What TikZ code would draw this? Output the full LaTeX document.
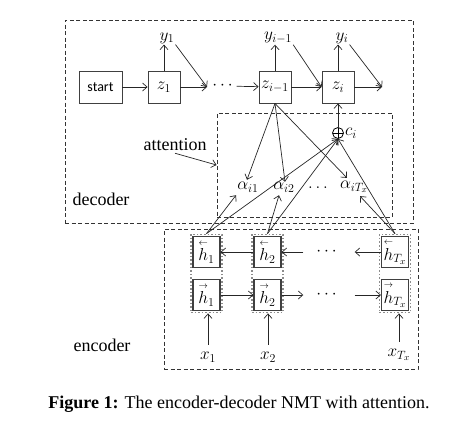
\documentclass[tikz,border=0pt]{standalone}
\usepackage{amsmath}
\usepackage{fontspec}
\setmainfont{Liberation Serif}
\newfontfamily\calibfont{Carlito}
\usetikzlibrary{arrows.meta,fit,calc}
\newcommand\hbk{\overset{\scriptscriptstyle\leftarrow}{h}}
\newcommand\hfw{\overset{\scriptscriptstyle\rightarrow}{h}}
\begin{document}
\begin{tikzpicture}[x=1pt,y=-1pt,
  >={Straight Barb[length=4.5pt,width=8pt]},
  conn/.style={draw=black!85, line width=0.7pt},
  arr/.style={conn,->},
  region/.style={draw=black!80, line width=0.9pt, dash pattern=on 4pt off 2.5pt, inner sep=0pt},
  dbox/.style={draw=black!75, line width=0.9pt, minimum width=32pt, minimum height=32pt, inner sep=0pt, font=\fontsize{18}{20}\selectfont},
  ebox/.style={draw=black!75, line width=1.2pt, minimum width=27pt, minimum height=31pt, inner sep=0pt, font=\fontsize{18}{20}\selectfont},
  gbox/.style={draw=black!45, line width=1.6pt, dotted, inner sep=1.5pt},
  mlab/.style={inner sep=1pt, font=\fontsize{18}{20}\selectfont},
  tlab/.style={inner sep=0pt, font=\fontsize{18}{20}\selectfont}
]
\useasboundingbox (0,0) rectangle (474,432);

% regions
\node[region, minimum width=348pt, minimum height=203pt] (dec) at (239,121.5) {};
\node[region, minimum width=175pt, minimum height=104pt] (att) at (304.5,165) {};
\node[region, minimum width=254pt, minimum height=140pt] (enc) at (291,299) {};

% decoder
\node[dbox, minimum width=43pt, font=\calibfont\fontsize{14}{16}\selectfont] (start) at (100.5,87) {start};
\node[dbox] (z1) at (164,87) {$z_1$};
\node[dbox] (zim1) at (275,87) {$z_{i-1}$};
\node[dbox] (zi) at (338,87) {$z_i$};
\node[mlab] (y1) at (167,38) {$y_1$};
\node[mlab] (yim1) at (278,38) {$y_{i-1}$};
\node[mlab] (yi) at (342,38) {$y_i$};
\node[mlab] (ddots) at (224,86) {$\cdots$};
\coordinate (m1) at (207,87);
\coordinate (m2) at (382,87);

\draw[arr] (start) -- (z1);
\draw[arr] (z1) -- (m1);
\draw[arr] (y1.south east) -- (m1);
\draw[arr] (z1.north) -- (z1.north|-y1.south);
\draw[arr] (ddots) -- (zim1);
\draw[arr] (zim1.north) -- (zim1.north|-yim1.south);
\draw[arr] (zim1) -- (zi);
\draw[arr] (yim1.south east) -- (zi.west);
\draw[arr] (zi.north) -- (zi.north|-yi.south);
\draw[arr] (zi) -- (m2);
\draw[arr] (yi.south east) -- (m2);

% attention
\node[circle, draw=black, line width=0.8pt, minimum size=11pt, inner sep=0pt,
  path picture={\draw[line width=0.8pt] (path picture bounding box.north) -- (path picture bounding box.south)
   (path picture bounding box.west) -- (path picture bounding box.east);}] (op) at (338,133) {};
\node[mlab, anchor=west] (ci) at (op.east) {$c_i$};
\node[mlab] (a1) at (248,187) {$\alpha_{i1}$};
\node[mlab] (a2) at (284,187) {$\alpha_{i2}$};
\node[mlab] (adots) at (318,188) {$\ldots$};
\node[mlab] (aT) at (354,187) {$\alpha_{iT_x}$};

\draw[arr] (op) -- (zi);
\draw[arr] (zim1.south) -- ($(a1.north)+(-1,-1)$);
\draw[arr] (zim1.south) -- ($(a2.north)+(1,1)$);
\draw[arr] (zim1.south) -- ($(aT.north)+(-7,-2)$);

\node[tlab] (attn) at (175,145) {attention};
\draw[arr] ($(attn.south)+(0,2)$) -- (att.west);
\node[tlab] (declab) at (101,199) {decoder};
\node[tlab] (enclab) at (102,345) {encoder};

% encoder
\node[ebox] (b1) at (206.5,252) {$\hbk_1$};
\node[ebox] (f1) at (206.5,295) {$\hfw_1$};
\node[ebox] (b2) at (267.5,252) {$\hbk_2$};
\node[ebox] (f2) at (267.5,295) {$\hfw_2$};
\node[ebox] (bT) at (395,252) {$\hbk_{T_x}$};
\node[ebox] (fT) at (395,295) {$\hfw_{T_x}$};
\node[gbox, fit=(b1)(f1)] (g1) {};
\node[gbox, fit=(b2)(f2)] (g2) {};
\node[gbox, fit=(bT)(fT)] (gT) {};
\node[mlab] (bdots) at (328,252) {$\cdots$};
\node[mlab] (fdots) at (328,295) {$\cdots$};
\node[mlab] (x1) at (208,357) {$x_1$};
\node[mlab] (x2) at (268,357) {$x_2$};
\node[mlab] (xT) at (399,355) {$x_{T_x}$};

\draw[arr] (b2) -- (b1);
\draw[arr, shorten <=12pt] (bdots) -- (b2);
\draw[arr, shorten >=14pt] (bT) -- (bdots);
\draw[arr] (f1) -- (f2);
\draw[arr, shorten >=12pt] (f2) -- (fdots);
\draw[arr, shorten <=14pt] (fdots) -- (fT);
\draw[arr, shorten <=6pt] (x1.north) -- (x1.north|-g1.south);
\draw[arr, shorten <=6pt] (x2.north) -- (x2.north|-g2.south);
\draw[arr, shorten <=6pt] (xT.north) -- (xT.north|-gT.south);

\draw[arr] (g1.north) -- ($(a1.south)+(-12,2)$);
\draw[arr] (g2.north) -- ($(a2.south)+(-5,2)$);
\draw[arr] (gT.north) -- ($(aT.south)+(6,2)$);
\draw[arr] (g1.north) -- (op.south);
\draw[arr] (g2.north) -- (op.south);
\draw[arr] (gT.north) -- (op.south);

% caption
\node[tlab] (cap) at (239,404) {\textbf{Figure 1:} The encoder-decoder NMT with attention.};
\end{tikzpicture}
\end{document}
